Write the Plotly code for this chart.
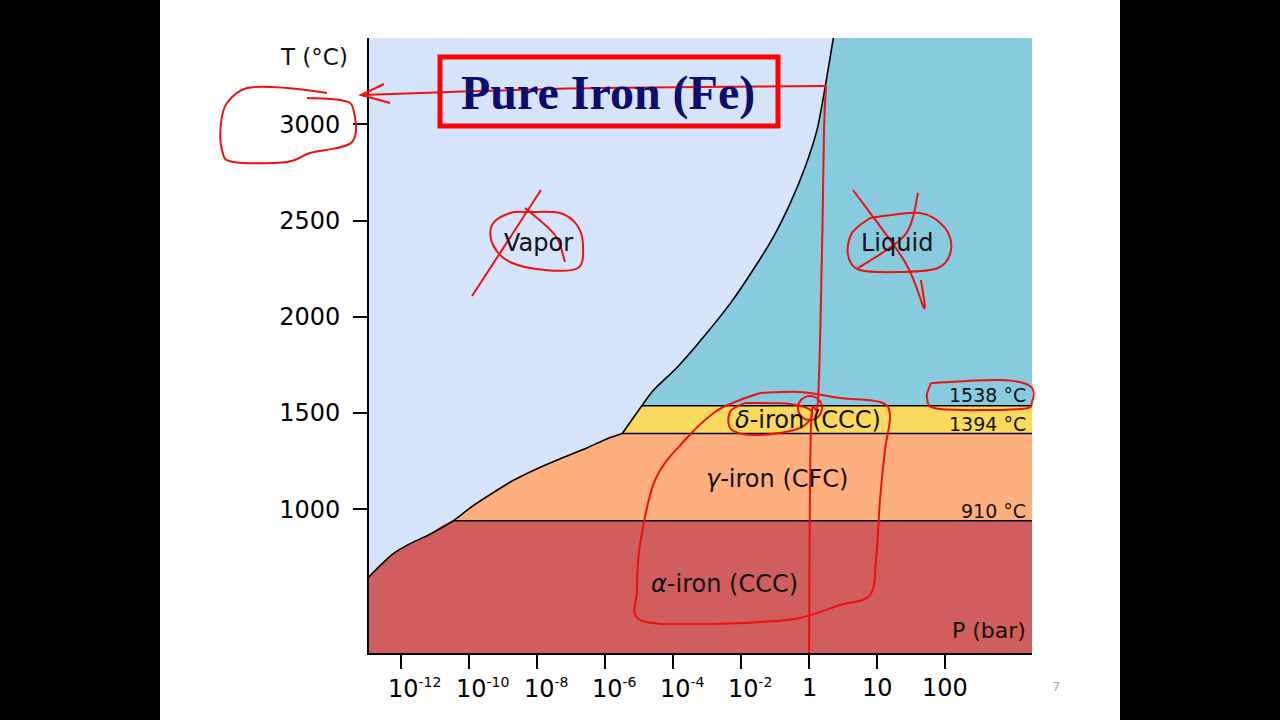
import numpy as np
import plotly.graph_objects as go

# ---------------- data (pressure in bar, temperature in °C) ----------------
# solid / vapour (sublimation) boundary
sub_P = [1.0e-13, 2.4e-13, 5.8e-13, 1.8e-12, 5.8e-12, 3.4e-11, 1.3e-10, 5.1e-10,
         1.9e-9, 1.0e-8, 4.8e-8, 3.0e-7, 1.15e-6, 3.2e-6, 1.2e-5]
sub_T = [638, 706, 768, 820, 862, 940, 1018, 1086, 1148, 1211, 1263, 1320, 1367, 1394, 1538]
# liquid / vapour boundary
lv_P = [1.2e-5, 2.6e-5, 1.3e-4, 7.6e-4, 4.8e-3, 2.2e-2, 8.7e-2, 0.275, 0.76, 1.30, 1.72, 2.28, 2.6]
lv_T = [1538, 1617, 1737, 1893, 2070, 2242, 2413, 2590, 2779, 2970, 3196, 3456, 3560]
# horizontal transition temperatures (as drawn) and their labels
T_ag, T_gd, T_dl = 940, 1394, 1538
trans_labels = ["1538 °C", "1394 °C", "910 °C"]
# triple points on the vapour curve
P_ag, P_gd, P_dl = 3.4e-11, 3.2e-6, 1.2e-5

tick_P = [1e-12, 1e-10, 1e-8, 1e-6, 1e-4, 1e-2, 1, 10, 100]
tick_base = ["10", "10", "10", "10", "10", "10", "1", "10", "100"]
tick_exp = ["-12", "-10", "-8", "-6", "-4", "-2", "", "", ""]
T_ticks = [1000, 1500, 2000, 2500, 3000]

P_min, P_max = 1.15e-13, 1880
T_min, T_max = 253, 3449

regions = ["Vapor", "Liquid", "<i>δ</i>-iron (CCC)", "<i>γ</i>-iron (CFC)", "<i>α</i>-iron (CCC)"]
region_P = [1.1e-8, 19.5, 0.9, 0.115, 3.2e-3]
region_T = [2382, 2382, 1466, 1159, 612]

# ---------------- helpers ----------------
def ax(p):
    """chart's warped pressure axis: 2 decades per tick below 1 bar, 1 decade above"""
    lg = np.log10(np.asarray(p, dtype=float))
    return np.where(lg <= 0, (lg + 12) / 2, 6 + lg)

W, H = 1280, 720
ML, MR, MT, MB = 369, 248, 38, 67
PW, PH = W - ML - MR, H - MT - MB
U0, U1 = float(ax(P_min)), float(ax(P_max))

def paper(x, y):
    return (x - ML) / PW, (H - MB - y) / PH

C_VAP = "#d6e4f9"
C_LIQ = "#89cbde"
C_DEL = "#fada5e"
C_GAM = "#feaf7e"
C_ALP = "#d05e5e"

fig = go.Figure()

Pbig, Tlow, Thigh = 1e4, 100, 4000
SM = 0.7

def poly(P, T, color):
    fig.add_trace(go.Scatter(x=ax(P), y=T, fill="toself", fillcolor=color, mode="lines",
                             line=dict(width=0, shape="spline", smoothing=SM),
                             hoverinfo="skip", showlegend=False))

i_ag = sub_P.index(P_ag)
i_gd = sub_P.index(P_gd)
# alpha
poly([sub_P[0] / 10] + sub_P[:i_ag + 1] + [Pbig, Pbig, sub_P[0] / 10],
     [Tlow] + sub_T[:i_ag + 1] + [T_ag, Tlow, Tlow], C_ALP)
# gamma
poly(sub_P[i_ag:i_gd + 1] + [Pbig, Pbig], sub_T[i_ag:i_gd + 1] + [T_gd, T_ag], C_GAM)
# delta
fig.add_trace(go.Scatter(x=ax([P_gd, P_dl, Pbig, Pbig]), y=[T_gd, T_dl, T_dl, T_gd],
                         fill="toself", fillcolor=C_DEL, mode="lines", line=dict(width=0),
                         hoverinfo="skip", showlegend=False))
# liquid
poly(lv_P + [Pbig, Pbig], lv_T + [Thigh, T_dl], C_LIQ)

# boundary lines
line = dict(color="black", width=1.6, shape="spline", smoothing=SM)
fig.add_trace(go.Scatter(x=ax(sub_P[:i_gd + 1]), y=sub_T[:i_gd + 1], mode="lines", line=line,
                         hoverinfo="skip", showlegend=False))
fig.add_trace(go.Scatter(x=ax([P_gd, P_dl]), y=[T_gd, T_dl], mode="lines",
                         line=dict(color="black", width=1.6), hoverinfo="skip", showlegend=False))
fig.add_trace(go.Scatter(x=ax(lv_P), y=lv_T, mode="lines", line=line, hoverinfo="skip", showlegend=False))
for P0, T0 in [(P_ag, T_ag), (P_gd, T_gd), (P_dl, T_dl)]:
    fig.add_trace(go.Scatter(x=ax([P0, Pbig]), y=[T0, T0], mode="lines",
                             line=dict(color="black", width=1.6),
                             hoverinfo="skip", showlegend=False))

# region labels
for txt, P0, T0 in zip(regions, region_P, region_T):
    fig.add_annotation(x=float(ax(P0)), y=T0, text=txt, showarrow=False,
                       xanchor="center", yanchor="middle",
                       font=dict(family="DejaVu Sans", size=24, color="#111"))

def label(x, y, txt, size, xanchor="center", family="DejaVu Sans", color="#111"):
    px, py = paper(x, y)
    fig.add_annotation(xref="paper", yref="paper", x=px, y=py, xanchor=xanchor, yanchor="middle",
                       text=txt, showarrow=False, font=dict(family=family, size=size, color=color))

# transition temperature labels
for txt, yy in zip(trans_labels, [395, 424, 511]):
    label(1028, yy, txt, 19, xanchor="right")

label(1028, 630, "P (bar)", 22, xanchor="right")
label(314, 57, "T (°C)", 23)

# pressure tick labels: base number centred on the tick, exponent hanging to the right
FS_X = 24
_, y_lab = paper(0, 688)
for P0, b, e in zip(tick_P, tick_base, tick_exp):
    u = float(ax(P0))
    if e:
        half = 0.636 * FS_X * len(b) / 2 / PW * (U1 - U0)
        fig.add_annotation(x=u - half, y=y_lab, yref="paper", xanchor="left", yanchor="middle",
                           text=f'{b}<sup><span style="font-size:14px">{e}</span></sup>',
                           showarrow=False,
                           font=dict(family="DejaVu Sans", size=FS_X, color="black"))
    else:
        fig.add_annotation(x=u, y=y_lab, yref="paper", xanchor="center", yanchor="middle",
                           text=b, showarrow=False,
                           font=dict(family="DejaVu Sans", size=FS_X, color="black"))

# title with red frame
label(608, 93, "<b>Pure Iron (Fe)</b>", 48, family="Liberation Serif", color="#0d0d6b")
x0, y0 = paper(440, 126)
x1, y1 = paper(778, 57)
fig.add_shape(type="rect", xref="paper", yref="paper", x0=x0, y0=y0, x1=x1, y1=y1,
              line=dict(color="#ff0000", width=5))

# hand-drawn red strokes (pen annotations on the slide)
strokes = [
    [(826, 86), (600, 88), (450, 92), (362, 95)],
    [(384, 84), (361, 95), (390, 103)],
    [(826, 86), (824, 130), (822, 250), (818, 400), (811, 425), (809, 653)],
    [(327, 93), (287, 88), (247, 88), (227, 103), (221, 123), (222, 150), (233, 162),
     (287, 162), (310, 153), (352, 142), (353, 108), (340, 100), (307, 98)],
    [(530, 212), (560, 213), (577, 225), (583, 245), (578, 268), (545, 270), (510, 262),
     (493, 245), (492, 225), (510, 213), (530, 212)],
    [(472, 296), (541, 190)],
    [(525, 208), (555, 235), (565, 262)],
    [(870, 218), (920, 213), (945, 228), (951, 250), (938, 268), (900, 272), (860, 270),
     (848, 255), (852, 233), (870, 218)],
    [(853, 190), (905, 262), (924, 308), (921, 280)],
    [(918, 193), (905, 235), (858, 268)],
    [(760, 393), (800, 392), (840, 398), (880, 402), (890, 415), (885, 450), (880, 500),
     (876, 560), (870, 595), (840, 605), (800, 618), (760, 622), (700, 624), (640, 620),
     (637, 590), (640, 545), (655, 480), (685, 440), (715, 412), (740, 400), (760, 393)],
    [(745, 403), (730, 412), (732, 430), (760, 435), (800, 428), (812, 412), (790, 404), (745, 403)],
    [(931, 383), (1000, 380), (1030, 386), (1032, 402), (1020, 409), (940, 409), (927, 398), (931, 383)],
]

def smooth_path(pts):
    """Catmull-Rom through the points, written as cubic Bezier segments"""
    P = [np.array(paper(x, y)) for x, y in pts]
    if len(P) < 3:
        return "M " + " L ".join(f"{p[0]:.4f},{p[1]:.4f}" for p in P)
    s = f"M {P[0][0]:.4f},{P[0][1]:.4f}"
    for i in range(len(P) - 1):
        p0 = P[i - 1] if i > 0 else P[i]
        p1, p2 = P[i], P[i + 1]
        p3 = P[i + 2] if i + 2 < len(P) else P[i + 1]
        c1 = p1 + (p2 - p0) / 6
        c2 = p2 - (p3 - p1) / 6
        s += f" C {c1[0]:.4f},{c1[1]:.4f} {c2[0]:.4f},{c2[1]:.4f} {p2[0]:.4f},{p2[1]:.4f}"
    return s

for k, s in enumerate(strokes):
    path = smooth_path(s) if k != 1 else "M " + " L ".join(
        "{:.4f},{:.4f}".format(*paper(x, y)) for x, y in s)
    fig.add_shape(type="path", xref="paper", yref="paper", path=path,
                  line=dict(color="#ee1111", width=2))
cx, cy = paper(810, 408)
rx, ry = 12 / PW, 12 / PH
fig.add_shape(type="circle", xref="paper", yref="paper", x0=cx - rx, x1=cx + rx, y0=cy - ry, y1=cy + ry,
              line=dict(color="#ee1111", width=2))

# black slide borders and page number
for xa, xb in [(0, 160), (1120, 1280)]:
    a, yt = paper(xa, 0)
    b, yb = paper(xb, 720)
    fig.add_shape(type="rect", xref="paper", yref="paper", x0=a, x1=b, y0=yb, y1=yt,
                  fillcolor="black", line=dict(width=0), layer="above")
label(1056, 687, "7", 13, color="#aaaaaa")

fig.update_layout(
    width=W, height=H, margin=dict(l=ML, r=MR, t=MT, b=MB, autoexpand=False),
    paper_bgcolor="white", plot_bgcolor=C_VAP, showlegend=False,
    xaxis=dict(range=[U0, U1], tickvals=ax(tick_P).tolist(), showticklabels=False,
               automargin=False, showgrid=False, zeroline=False, showline=True,
               linecolor="black", linewidth=1.6, ticks="outside", ticklen=14, tickwidth=1.6,
               tickcolor="black"),
    yaxis=dict(range=[T_min, T_max], tickvals=T_ticks, showgrid=False, zeroline=False,
               automargin=False,
               showline=True, linecolor="black", linewidth=1.6, ticks="outside", ticklen=14,
               tickwidth=1.6, tickcolor="black", ticklabelstandoff=8,
               tickfont=dict(family="DejaVu Sans", size=24, color="black")),
)

fig.write_html("out.html")
